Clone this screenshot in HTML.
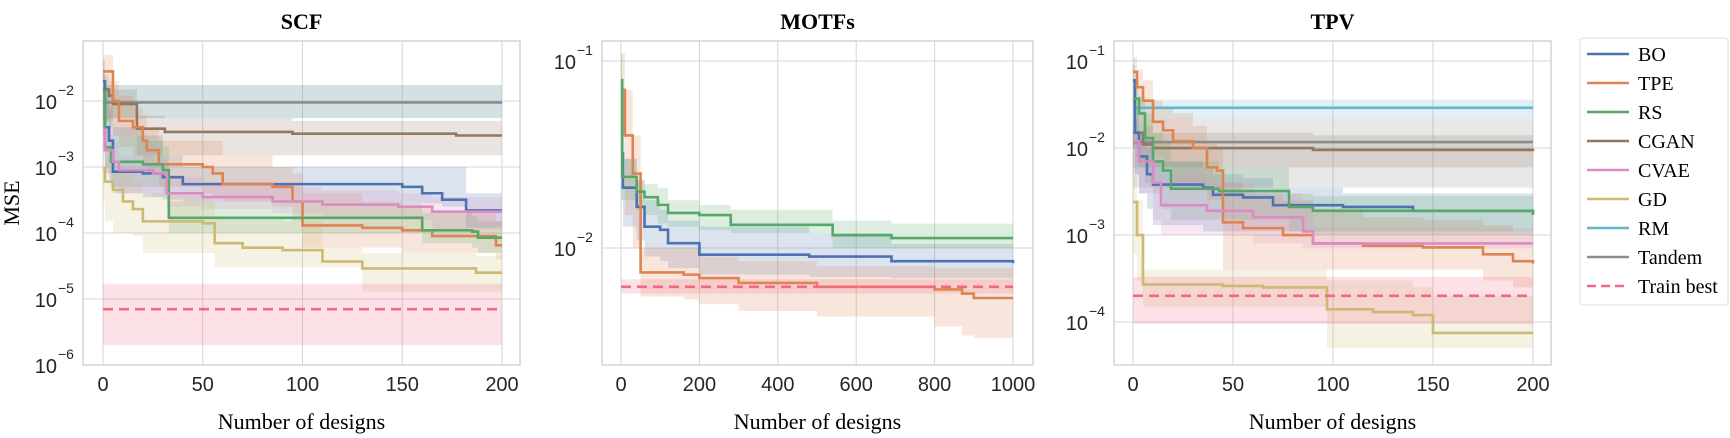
<!DOCTYPE html>
<html><head><meta charset="utf-8"><style>
html,body{margin:0;padding:0;background:#fff}
svg{display:block}
</style></head><body>
<svg id="chart" width="1730" height="438" xmlns="http://www.w3.org/2000/svg"></svg>
<script>
// ---------- DATA ----------
// SCF panel (x: 0..200)
const scfBO_x=[0,1,3,5,20,30,40,150,160,170,182,200];
const scfBO_y=[2e-2,4e-3,2.5e-3,8.5e-4,8e-4,7e-4,5.5e-4,5e-4,4e-4,3.2e-4,2.2e-4,2.2e-4];
const scfBO_lo=[5e-3,1e-3,6e-4,4e-4,3.5e-4,3.2e-4,3e-4,3e-4,2.8e-4,2.5e-4,1.2e-4,1.2e-4];
const scfBO_hi=[4e-2,1.5e-2,8e-3,4e-3,3e-3,1.5e-3,1e-3,1e-3,1e-3,1e-3,4e-4,4e-4];
const scfTPE_x=[0,5,8,15,20,22,28,50,55,60,85,95,100,130,150,165,197,200];
const scfTPE_y=[2.8e-2,1e-2,5e-3,4e-3,2.5e-3,1.8e-3,1.1e-3,1e-3,8e-4,5.5e-4,5e-4,3e-4,1.3e-4,1.2e-4,1.1e-4,9e-5,6.5e-5,6.5e-5];
const scfTPE_lo=[5e-3,3e-3,2e-3,1.5e-3,1e-3,8e-4,5e-4,4e-4,3.5e-4,3e-4,2.5e-4,1.5e-4,6e-5,6e-5,5e-5,5e-5,4e-5,4e-5];
const scfTPE_hi=[5e-2,2e-2,1.2e-2,8e-3,6e-3,4e-3,2.5e-3,2.5e-3,2.5e-3,1.5e-3,1e-3,8e-4,4e-4,3e-4,2.5e-4,2e-4,1.5e-4,1.5e-4];
const scfRS_x=[0,1,4,20,30,33,160,185,188,200];
const scfRS_y=[1.4e-2,2e-3,1.2e-3,1.1e-3,9e-4,1.7e-4,1.1e-4,1.05e-4,8.5e-5,8.5e-5];
const scfRS_lo=[3e-3,8e-4,5e-4,5e-4,4e-4,1e-4,7e-5,6e-5,5e-5,5e-5];
const scfRS_hi=[3e-2,6e-3,3e-3,2.5e-3,2e-3,3e-4,2e-4,1.8e-4,1.5e-4,1.5e-4];
const scfCGAN_x=[0,3,5,17,31,95,177,200];
const scfCGAN_y=[1.5e-2,1.2e-2,9e-3,3.8e-3,3.4e-3,3.2e-3,3e-3,3e-3];
const scfCGAN_lo=[5e-3,4e-3,3e-3,1.5e-3,1.5e-3,1.5e-3,1.5e-3,1.5e-3];
const scfCGAN_hi=[2.5e-2,2e-2,1.5e-2,6e-3,5.5e-3,5e-3,5e-3,5e-3];
const scfCVAE_x=[0,1,5,8,25,32,50,85,110,148,165,200];
const scfCVAE_y=[3.7e-3,1.8e-3,1.2e-3,9e-4,8e-4,4e-4,3.5e-4,3e-4,2.7e-4,2.5e-4,2.1e-4,2.1e-4];
const scfCVAE_lo=[1.5e-3,8e-4,5e-4,4e-4,3.5e-4,2.5e-4,2.3e-4,2e-4,1.8e-4,1.6e-4,1.1e-4,1.1e-4];
const scfCVAE_hi=[8e-3,4e-3,2.5e-3,1.5e-3,1.3e-3,7e-4,6e-4,5e-4,4.5e-4,4e-4,3.5e-4,3.5e-4];
const scfGD_x=[0,1,5,10,15,20,50,56,70,90,110,130,187,200];
const scfGD_y=[9.5e-4,6e-4,4.5e-4,3e-4,2.3e-4,1.5e-4,1.4e-4,7e-5,6e-5,5.5e-5,3.7e-5,2.9e-5,2.5e-5,2.5e-5];
const scfGD_lo=[3e-4,1.5e-4,1e-4,1e-4,9e-5,5e-5,5e-5,3e-5,3e-5,3e-5,3e-5,1.3e-5,1.3e-5,1.3e-5];
const scfGD_hi=[2e-3,1.5e-3,1e-3,8e-4,6e-4,4e-4,3.5e-4,1.6e-4,1.6e-4,1.5e-4,6e-5,5e-5,4.5e-5,4.5e-5];
const scfTandem_x=[0,200];
const scfTandem_y=[9.5e-3,9.5e-3];
const scfTandem_lo=[5.5e-3,5.5e-3];
const scfTandem_hi=[1.75e-2,1.75e-2];
const scfTrain_y=7e-6, scfTrain_lo=2e-6, scfTrain_hi=1.7e-5;

// MOTFs panel (x: 0..1000)
const motBO_x=[0,5,40,60,100,120,200,480,690,1000];
const motBO_y=[3.2e-2,2.1e-2,1.66e-2,1.3e-2,1.25e-2,1.06e-2,9.2e-3,9e-3,8.5e-3,8.3e-3];
const motBO_lo=[1.8e-2,1.3e-2,1.1e-2,9e-3,8.5e-3,7.8e-3,7.2e-3,7e-3,6.9e-3,6.9e-3];
const motBO_hi=[5e-2,3e-2,2.3e-2,1.8e-2,1.6e-2,1.4e-2,1.3e-2,1.2e-2,1.05e-2,1.05e-2];
const motTPE_x=[0,10,30,50,160,200,300,500,800,870,900,1000];
const motTPE_y=[7e-2,4e-2,2.5e-2,7.4e-3,7.2e-3,6.9e-3,6.5e-3,6.2e-3,6e-3,5.7e-3,5.4e-3,5.4e-3];
const motTPE_lo=[3e-2,1.5e-2,1e-2,5.5e-3,5.3e-3,5e-3,4.6e-3,4.3e-3,3.8e-3,3.4e-3,3.3e-3,3.3e-3];
const motTPE_hi=[1.1e-1,7e-2,4e-2,1e-2,1e-2,9e-3,8.5e-3,8e-3,7.8e-3,7.8e-3,7.8e-3,7.8e-3];
const motRS_x=[0,3,40,60,94,120,200,280,540,690,1000];
const motRS_y=[7.9e-2,2.4e-2,2e-2,1.87e-2,1.7e-2,1.54e-2,1.5e-2,1.33e-2,1.17e-2,1.13e-2,1.13e-2];
const motRS_lo=[4e-2,1.8e-2,1.6e-2,1.5e-2,1.35e-2,1.3e-2,1.25e-2,1.2e-2,1e-2,1e-2,1e-2];
const motRS_hi=[1.1e-1,3e-2,2.3e-2,2.2e-2,2.1e-2,1.8e-2,1.7e-2,1.6e-2,1.4e-2,1.35e-2,1.35e-2];
const motTrain_y=6.2e-3, motTrain_lo=5.7e-3, motTrain_hi=6.8e-3;

// TPV panel (x: 0..200)
const tpvBO_x=[0,1,3,7,10,35,40,55,70,105,140,200];
const tpvBO_y=[6e-2,1.5e-2,8e-3,5e-3,3.8e-3,3.5e-3,2.9e-3,2.7e-3,2.2e-3,2.1e-3,1.9e-3,1.8e-3];
const tpvBO_lo=[1e-2,5e-3,3e-3,2e-3,1.3e-3,1.1e-3,1.1e-3,1.1e-3,1.1e-3,1.1e-3,1.1e-3,1.1e-3];
const tpvBO_hi=[9e-2,3e-2,1.5e-2,1e-2,7e-3,6e-3,5e-3,4.5e-3,3.5e-3,3e-3,3e-3,3e-3];
const tpvTPE_x=[0,2,5,10,15,20,30,37,42,45,55,75,90,115,145,175,190,200];
const tpvTPE_y=[7.5e-2,5e-2,3.5e-2,2e-2,1.6e-2,1.2e-2,1e-2,6e-3,5.5e-3,1.4e-3,1.2e-3,1e-3,8e-4,7.5e-4,7.2e-4,6e-4,5e-4,4.7e-4];
const tpvTPE_lo=[3e-2,2e-2,1.2e-2,8e-3,6e-3,4e-3,3.5e-3,2.5e-3,2.5e-3,4e-4,4e-4,4e-4,4e-4,4e-4,4e-4,3e-4,2.5e-4,2.5e-4];
const tpvTPE_hi=[1.1e-1,8e-2,6e-2,3.5e-2,3e-2,2.5e-2,1.8e-2,1.2e-2,1e-2,4e-3,3e-3,2.5e-3,2e-3,1.6e-3,1.5e-3,1.3e-3,1.1e-3,1.1e-3];
const tpvRS_x=[0,3,6,10,15,19,43,78,90,200];
const tpvRS_y=[3.7e-2,2.5e-2,1.3e-2,7e-3,5.5e-3,3.4e-3,3.2e-3,2.1e-3,1.9e-3,1.7e-3];
const tpvRS_lo=[1e-2,6e-3,4e-3,3e-3,2e-3,1.5e-3,1.5e-3,1.1e-3,1e-3,1e-3];
const tpvRS_hi=[6e-2,4e-2,2.5e-2,1.5e-2,1.2e-2,7e-3,6e-3,3e-3,2.8e-3,2.7e-3];
const tpvCGAN_x=[0,5,10,90,200];
const tpvCGAN_y=[1.5e-2,1.1e-2,1e-2,9.5e-3,9.2e-3];
const tpvCGAN_lo=[6e-3,6e-3,6e-3,6e-3,6e-3];
const tpvCGAN_hi=[2e-2,1.8e-2,1.5e-2,1.4e-2,1.4e-2];
const tpvCVAE_x=[0,3,10,14,37,60,85,90,200];
const tpvCVAE_y=[1.2e-2,7e-3,4e-3,2.2e-3,1.9e-3,1.6e-3,1.1e-3,8e-4,8e-4];
const tpvCVAE_lo=[5e-3,3e-3,1.5e-3,1e-3,1e-3,8e-4,7e-4,7e-4,7e-4];
const tpvCVAE_hi=[2e-2,1.3e-2,8e-3,5e-3,4e-3,3e-3,2.5e-3,1.2e-3,1.1e-3];
const tpvGD_x=[0,2,5,45,65,97,120,140,150,200];
const tpvGD_y=[2.4e-3,1e-3,2.7e-4,2.6e-4,2.5e-4,1.4e-4,1.3e-4,1.2e-4,7.5e-5,7.5e-5];
const tpvGD_lo=[6e-4,3e-4,1.5e-4,1.5e-4,1.5e-4,5e-5,5e-5,5e-5,5e-5,5e-5];
const tpvGD_hi=[5e-3,2.5e-3,4e-4,4e-4,4e-4,3e-4,3e-4,2.5e-4,2e-4,2e-4];
const tpvRM_x=[0,200];
const tpvRM_y=[2.9e-2,2.9e-2];
const tpvRM_lo=[2.2e-2,2.2e-2];
const tpvRM_hi=[3.6e-2,3.6e-2];
const tpvTandem_x=[0,200];
const tpvTandem_y=[1.17e-2,1.17e-2];
const tpvTandem_lo=[3.5e-3,3.5e-3];
const tpvTandem_hi=[2.2e-2,2.2e-2];
const tpvTrain_y=2e-4, tpvTrain_lo=9.5e-5, tpvTrain_hi=3.3e-4;

const legendLabels=["BO","TPE","RS","CGAN","CVAE","GD","RM","Tandem","Train best"];
const scfXTicks=[0,50,100,150,200];
const motXTicks=[0,200,400,600,800,1000];
const tpvXTicks=[0,50,100,150,200];
const scfYTicks=[-6,-5,-4,-3,-2];
const motYTicks=[-2,-1];
const tpvYTicks=[-4,-3,-2,-1];

// ---------- RENDER ----------
const C={BO:"#4c72b0",TPE:"#dd8452",RS:"#55a868",CGAN:"#937860",CVAE:"#da8bc3",GD:"#ccb974",RM:"#64b5cd",Tandem:"#8c8c8c",Train:"#ee6a80"};
const NS="http://www.w3.org/2000/svg";
const svg=document.getElementById('chart');
function mk(tag,attrs,parent){const e=document.createElementNS(NS,tag);for(const k in attrs)e.setAttribute(k,attrs[k]);(parent||svg).appendChild(e);return e;}
const SERIF='"Liberation Serif", serif', SANS='"Liberation Sans", sans-serif';

function panel(cfg){
  const g=mk('g',{});
  
  
  const X=v=>cfg.px0+(v-cfg.xmin)/(cfg.xmax-cfg.xmin)*(cfg.px1-cfg.px0);
  const Y=v=>cfg.top+(cfg.logTop-Math.log10(v))/(cfg.logTop-cfg.logBot)*(cfg.bot-cfg.top);
  const YL=l=>cfg.top+(cfg.logTop-l)/(cfg.logTop-cfg.logBot)*(cfg.bot-cfg.top);
  // grid
  cfg.xticks.forEach(t=>{
    const l=mk('line',{x1:X(t),x2:X(t),y1:cfg.top,y2:cfg.bot,stroke:'#d5d5d5','stroke-width':1},g);
    
    
    const tx=mk('text',{x:X(t),y:391,'text-anchor':'middle','font-family':SANS,'font-size':20,fill:'#262626'},g);
    
    
    tx.textContent=t;
  });
  cfg.yticks.forEach(t=>{
    const y=YL(t);
    const l=mk('line',{x1:cfg.fx0,x2:cfg.fx1,y1:y,y2:y,stroke:'#d5d5d5','stroke-width':1},g);
    
    
    const tx=mk('text',{x:cfg.fx0-26,y:y+8,'text-anchor':'end','font-family':SANS,'font-size':20,fill:'#262626'},g);
    
    
    tx.textContent='10';
    const sp=mk('text',{x:cfg.fx0-25,y:y-6,'font-family':SANS,'font-size':14,fill:'#262626'},g);
    
    
    sp.textContent='\u2212'+(-t);
  });
  function band(xs,lo,hi,col,op,nm){
    let d='M'+X(xs[0])+','+Y(hi[0]);
    for(let i=1;i<xs.length;i++){d+=' L'+X(xs[i])+','+Y(hi[i-1])+' L'+X(xs[i])+','+Y(hi[i]);}
    d+=' L'+X(xs[xs.length-1])+','+Y(lo[lo.length-1]);
    for(let i=xs.length-1;i>0;i--){d+=' L'+X(xs[i])+','+Y(lo[i-1])+' L'+X(xs[i-1])+','+Y(lo[i-1]);}
    d+=' Z';
    const p=mk('path',{d:d,fill:col,'fill-opacity':op,stroke:'none'},g);
    
    
  }
  function line(xs,ys,col,nm){
    let d='M'+X(xs[0])+','+Y(ys[0]);
    for(let i=1;i<xs.length;i++){d+=' H'+X(xs[i])+' V'+Y(ys[i]);}
    const p=mk('path',{d:d,fill:'none',stroke:col,'stroke-width':2.6},g);
    
    
  }
  cfg.series.forEach(s=>band(s.x,s.lo,s.hi,s.fill||C[s.k],s.op||0.2,s.k.toLowerCase()));
  // train best
  const tx0=X(cfg.xmin),tx1=X(cfg.xmax);
  const tb=mk('rect',{x:tx0,y:Y(cfg.train[2]),width:tx1-tx0,height:Y(cfg.train[1])-Y(cfg.train[2]),fill:C.Train,'fill-opacity':0.2},g);
  
  
  cfg.series.forEach(s=>line(s.x,s.y,C[s.k],s.k.toLowerCase()));
  const tl=mk('line',{x1:tx0,x2:tx1,y1:Y(cfg.train[0]),y2:Y(cfg.train[0]),stroke:C.Train,'stroke-width':2.6,'stroke-dasharray':'10,6'},g);
  
  
  // frame
  const fr=mk('rect',{x:cfg.fx0,y:cfg.top,width:cfg.fx1-cfg.fx0,height:cfg.bot-cfg.top,fill:'none',stroke:'#cccccc','stroke-width':1.3},g);
  
  
  const ti=mk('text',{x:(cfg.fx0+cfg.fx1)/2,y:29,'text-anchor':'middle','font-family':SERIF,'font-size':22,'font-weight':'bold',fill:'#000'},g);
  
  
  ti.textContent=cfg.title;
  const xl=mk('text',{x:(cfg.fx0+cfg.fx1)/2,y:429,'text-anchor':'middle','font-family':SERIF,'font-size':22,fill:'#000'},g);
  
  
  xl.textContent='Number of designs';
}

panel({name:'scf',title:'SCF',fx0:83,fx1:520,px0:103,px1:502,xmin:0,xmax:200,top:41,bot:365,logTop:-1.091,logBot:-6,
  xticks:scfXTicks,yticks:scfYTicks,train:[scfTrain_y,scfTrain_lo,scfTrain_hi],
  series:[
   {k:'Tandem',x:scfTandem_x,y:scfTandem_y,lo:scfTandem_lo,hi:scfTandem_hi,fill:'#6f9aa5',op:0.3},
   {k:'CGAN',x:scfCGAN_x,y:scfCGAN_y,lo:scfCGAN_lo,hi:scfCGAN_hi},
   {k:'BO',x:scfBO_x,y:scfBO_y,lo:scfBO_lo,hi:scfBO_hi},
   {k:'TPE',x:scfTPE_x,y:scfTPE_y,lo:scfTPE_lo,hi:scfTPE_hi},
   {k:'RS',x:scfRS_x,y:scfRS_y,lo:scfRS_lo,hi:scfRS_hi},
   {k:'CVAE',x:scfCVAE_x,y:scfCVAE_y,lo:scfCVAE_lo,hi:scfCVAE_hi},
   {k:'GD',x:scfGD_x,y:scfGD_y,lo:scfGD_lo,hi:scfGD_hi}]});
panel({name:'motfs',title:'MOTFs',fx0:602,fx1:1033,px0:621,px1:1013,xmin:0,xmax:1000,top:41,bot:365,logTop:-0.893,logBot:-2.626,
  xticks:motXTicks,yticks:motYTicks,train:[motTrain_y,motTrain_lo,motTrain_hi],
  series:[
   {k:'BO',x:motBO_x,y:motBO_y,lo:motBO_lo,hi:motBO_hi},
   {k:'TPE',x:motTPE_x,y:motTPE_y,lo:motTPE_lo,hi:motTPE_hi},
   {k:'RS',x:motRS_x,y:motRS_y,lo:motRS_lo,hi:motRS_hi}]});
panel({name:'tpv',title:'TPV',fx0:1114,fx1:1551,px0:1133,px1:1533,xmin:0,xmax:200,top:41,bot:365,logTop:-0.770,logBot:-4.494,
  xticks:tpvXTicks,yticks:tpvYTicks,train:[tpvTrain_y,tpvTrain_lo,tpvTrain_hi],
  series:[
   {k:'RM',x:tpvRM_x,y:tpvRM_y,lo:tpvRM_lo,hi:tpvRM_hi},
   {k:'Tandem',x:tpvTandem_x,y:tpvTandem_y,lo:tpvTandem_lo,hi:tpvTandem_hi},
   {k:'CGAN',x:tpvCGAN_x,y:tpvCGAN_y,lo:tpvCGAN_lo,hi:tpvCGAN_hi},
   {k:'BO',x:tpvBO_x,y:tpvBO_y,lo:tpvBO_lo,hi:tpvBO_hi},
   {k:'TPE',x:tpvTPE_x,y:tpvTPE_y,lo:tpvTPE_lo,hi:tpvTPE_hi},
   {k:'RS',x:tpvRS_x,y:tpvRS_y,lo:tpvRS_lo,hi:tpvRS_hi},
   {k:'CVAE',x:tpvCVAE_x,y:tpvCVAE_y,lo:tpvCVAE_lo,hi:tpvCVAE_hi},
   {k:'GD',x:tpvGD_x,y:tpvGD_y,lo:tpvGD_lo,hi:tpvGD_hi}]});

// y axis title
const yt=mk('text',{x:0,y:0,transform:'translate(19,203) rotate(-90)','text-anchor':'middle','font-family':SERIF,'font-size':22,fill:'#000'});


yt.textContent='MSE';

// legend
const lg=mk('g',{});


const lbox=mk('rect',{x:1580,y:38,width:148,height:267,rx:3,fill:'#fff',stroke:'#dddddd','stroke-width':1},lg);


const lcols=[C.BO,C.TPE,C.RS,C.CGAN,C.CVAE,C.GD,C.RM,C.Tandem,C.Train];
legendLabels.forEach((lab,i)=>{
  const y=54+i*29;
  const e=mk('g',{},lg);
  
  
  const ln=mk('line',{x1:1587,x2:1629,y1:y,y2:y,stroke:lcols[i],'stroke-width':2.6},e);
  if(lab==='Train best') ln.setAttribute('stroke-dasharray','9,5');
  
  
  const t=mk('text',{x:1638,y:y+7,'font-family':SERIF,'font-size':20,fill:'#000'},e);
  
  
  t.textContent=lab;
});
</script>
</body></html>
